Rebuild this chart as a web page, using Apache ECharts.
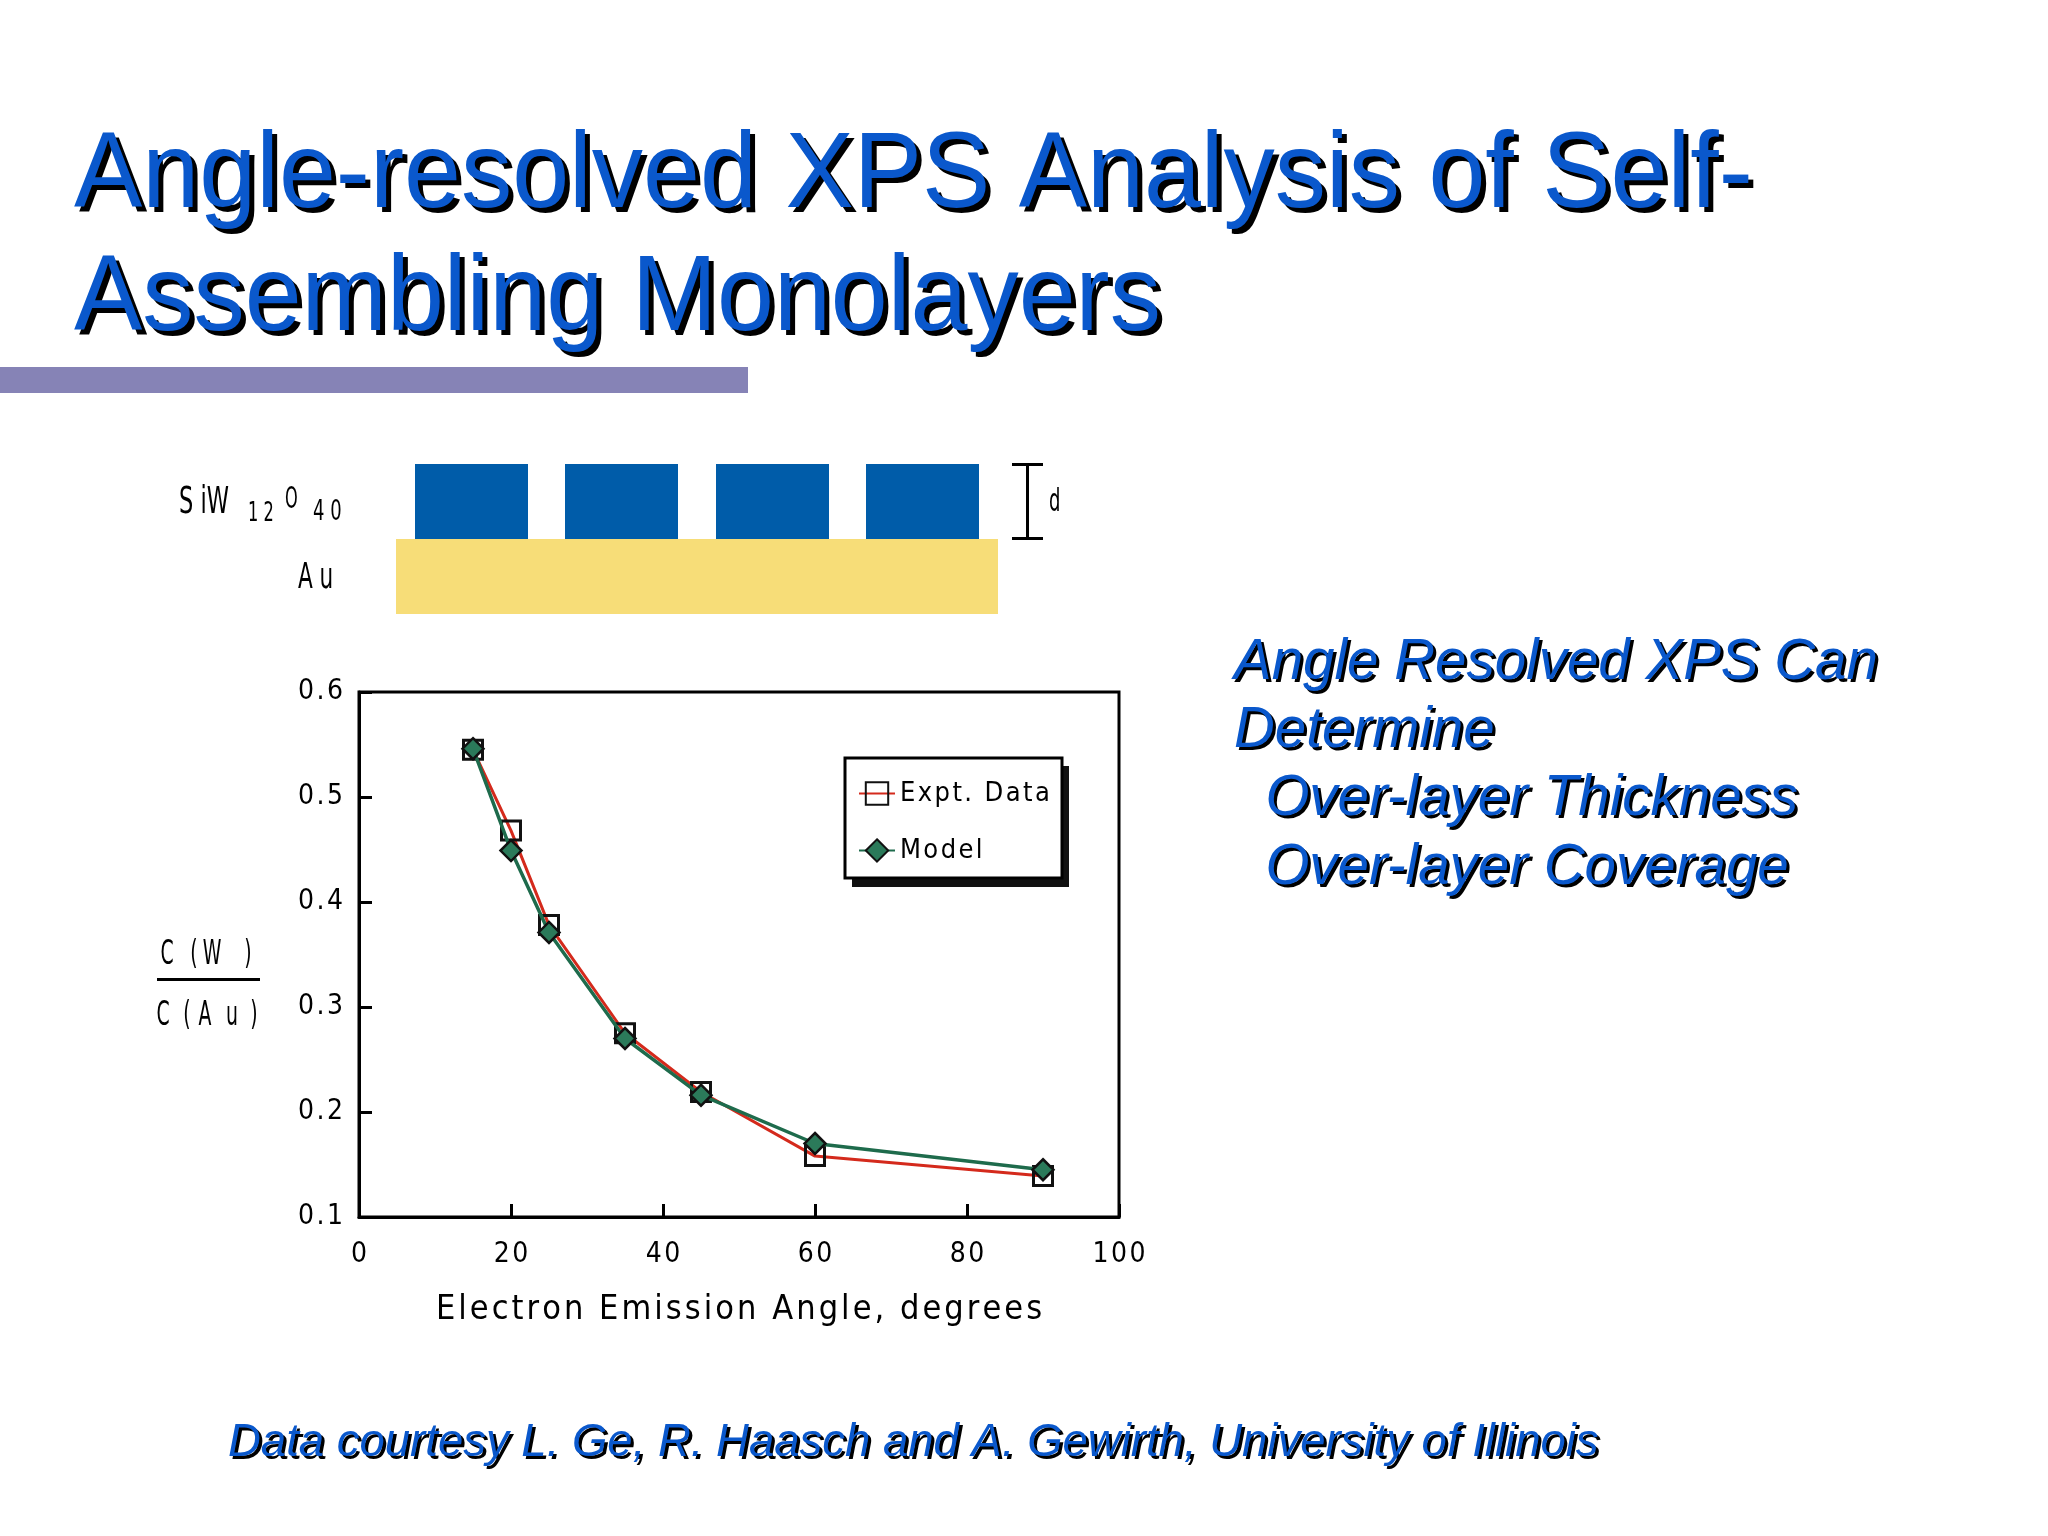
<!DOCTYPE html>
<html><head><meta charset="utf-8">
<script src="https://cdn.jsdelivr.net/npm/echarts@6/dist/echarts.min.js"></script>
<style>html,body{margin:0;padding:0;background:#fff}#c{width:2048px;height:1536px}</style>
</head><body><div id="c"></div>
<script>
// ---- data ----
const angles = [15, 20, 25, 35, 45, 60, 90];
const exptData = [0.545, 0.468, 0.378, 0.275, 0.219, 0.158, 0.139];
const modelData = [0.546, 0.449, 0.371, 0.270, 0.216, 0.170, 0.145];
const seriesNames = ['Expt. Data', 'Model'];
const xTickLabels = ['0', '20', '40', '60', '80', '100'];
const yTickLabels = ['0.1', '0.2', '0.3', '0.4', '0.5', '0.6'];
const xAxisTitle = 'Electron Emission Angle, degrees';
const titleLines = ['Angle-resolved XPS Analysis of Self-', 'Assembling Monolayers'];
const sideLines = ['Angle Resolved XPS Can', 'Determine', '  Over-layer Thickness', '  Over-layer Coverage'];
const footer = 'Data courtesy L. Ge, R. Haasch and A. Gewirth, University of Illinois';

const NARROW = "'DejaVu Sans Condensed','DejaVu Sans',sans-serif";
const SANS = "'Liberation Sans',Arial,sans-serif";
const BLUE = '#0a58cc';
const HAIR = '\u200A';
const spaced = s => s.split('').join(HAIR);

function shadowText(x, y, text, size, italic, off, extra) {
  const base = {
    text: text, fontSize: size, fontFamily: SANS, fontStyle: italic ? 'italic' : 'normal',
    textAlign: 'left', textVerticalAlign: 'middle'
  };
  return [
    Object.assign({type: 'text', x: x + off, y: y + off, style: Object.assign({}, base, {fill: '#000'})}, extra || {}),
    Object.assign({type: 'text', x: x, y: y, style: Object.assign({}, base, {fill: BLUE})}, extra || {})
  ];
}

const graphics = [];
// title
graphics.push(...shadowText(74, 177, titleLines[0], 108, false, 5, {scaleX: 0.948}));
graphics.push(...shadowText(74, 300, titleLines[1], 108, false, 5, {scaleX: 0.948}));
// purple bar
graphics.push({type: 'rect', shape: {x: 0, y: 367, width: 748, height: 26}, style: {fill: '#8683b6'}});
// diagram
graphics.push({type: 'rect', shape: {x: 396, y: 539, width: 602, height: 75}, style: {fill: '#f7dd78'}});
[415, 565, 716, 866].forEach(x => graphics.push({type: 'rect', shape: {x: x, y: 464, width: 113, height: 75}, style: {fill: '#005ca9'}}));
graphics.push({type: 'rect', shape: {x: 1026, y: 464, width: 3, height: 76}, style: {fill: '#000'}});
graphics.push({type: 'rect', shape: {x: 1012, y: 463, width: 31, height: 3}, style: {fill: '#000'}});
graphics.push({type: 'rect', shape: {x: 1012, y: 537, width: 31, height: 3}, style: {fill: '#000'}});
const lbl = (x, y, t, s, sy, align) => ({
  type: 'text', x: x, y: y, scaleY: sy,
  style: {text: t, fontSize: s, fontFamily: NARROW, fill: '#000', textAlign: align || 'left', textVerticalAlign: 'middle'}
});
graphics.push(lbl(1049, 503, 'd', 20, 1.6));
graphics.push(lbl(179, 503, 'S iW', 25, 1.48));
graphics.push(lbl(248, 514, '1 2', 18, 1.5));
graphics.push(lbl(285, 500, 'O', 18, 1.7));
graphics.push(lbl(313, 513, '4 0', 20, 1.4));
graphics.push(lbl(298, 579, 'A u', 24, 1.5));
// y-axis fraction label
[['C', 167], ['(', 194], ['W', 212], [')', 248]].forEach(p => graphics.push(lbl(p[1], 955, p[0], 21, 1.6, 'center')));
graphics.push({type: 'rect', shape: {x: 157, y: 978, width: 103, height: 3}, style: {fill: '#000'}});
[['C', 163], ['(', 187], ['A', 205], ['u', 232], [')', 254]].forEach(p => graphics.push(lbl(p[1], 1016, p[0], 21, 1.6, 'center')));
// side text
const sideY = [663, 731, 799, 868];
sideLines.forEach((t, i) => graphics.push(...shadowText(1234, sideY[i], t, 56.5, true, 3)));
// footer
graphics.push(...shadowText(228, 1443, footer, 45.5, true, 3));
// legend box with shadow
graphics.push({type: 'rect', z: 5, shape: {x: 852, y: 766, width: 217, height: 121}, style: {fill: '#111'}});
graphics.push({type: 'rect', z: 6, shape: {x: 845, y: 758, width: 217, height: 120}, style: {fill: '#fff', stroke: '#000', lineWidth: 3}});

const chart = echarts.init(document.getElementById('c'));
chart.setOption({
  animation: false,
  backgroundColor: '#ffffff',
  grid: {left: 359, top: 692, width: 760, height: 525, show: true, borderColor: '#000', borderWidth: 3, backgroundColor: 'transparent'},
  xAxis: {
    type: 'value', min: 0, max: 100, interval: 20,
    axisLine: {lineStyle: {color: '#000', width: 3}},
    axisTick: {inside: true, length: 13, lineStyle: {color: '#000', width: 3}},
    axisLabel: {margin: 24, fontFamily: NARROW, fontSize: 28, color: '#000', formatter: (v, i) => spaced(xTickLabels[i])},
    splitLine: {show: false},
    name: spaced(xAxisTitle), nameLocation: 'middle', nameGap: 76,
    nameTextStyle: {fontFamily: NARROW, fontSize: 34, color: '#000'}
  },
  yAxis: {
    type: 'value', min: 0.1, max: 0.6, interval: 0.1,
    axisLine: {lineStyle: {color: '#000', width: 3}},
    axisTick: {inside: true, length: 13, lineStyle: {color: '#000', width: 3}},
    axisLabel: {margin: 16, fontFamily: NARROW, fontSize: 28, color: '#000', formatter: (v, i) => spaced(yTickLabels[i])},
    splitLine: {show: false}
  },
  legend: {
    orient: 'vertical', left: 858, top: 780, z: 10,
    padding: 0,
    itemWidth: 36, itemHeight: 28, itemGap: 30,
    textStyle: {fontFamily: NARROW, fontSize: 27, color: '#000'},
    formatter: n => spaced(n),
    data: seriesNames
  },
  series: [
    {
      name: seriesNames[0], type: 'line', z: 2,
      data: angles.map((a, i) => [a, exptData[i]]),
      symbol: 'rect', symbolSize: 19,
      lineStyle: {color: '#d42a1c', width: 3},
      itemStyle: {color: 'rgba(255,255,255,0)', borderColor: '#111', borderWidth: 3}
    },
    {
      name: seriesNames[1], type: 'line', z: 3,
      data: angles.map((a, i) => [a, modelData[i]]),
      symbol: 'diamond', symbolSize: [21, 21],
      lineStyle: {color: '#1e6b4c', width: 3.5},
      itemStyle: {color: '#2b7a5a', borderColor: '#111', borderWidth: 2.5}
    }
  ],
  graphic: graphics
});
</script></body></html>
